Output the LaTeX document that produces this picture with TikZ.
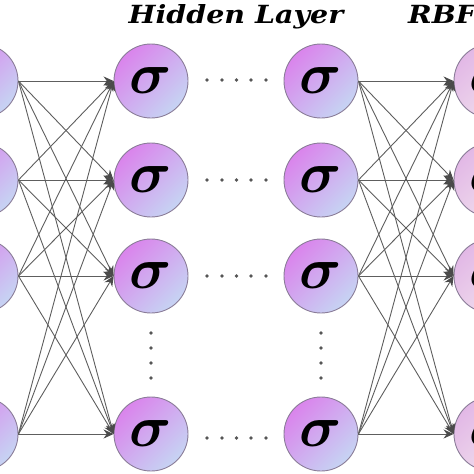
\documentclass[tikz,border=0pt]{standalone}
\usepackage{graphicx}
\usepackage{fontspec}
\newfontfamily\headfont[FakeStretch=1.14]{DejaVu Serif}
\usetikzlibrary{arrows.meta}
\definecolor{magA}{HTML}{DA84EC}
\definecolor{bluA}{HTML}{C6D4F3}
\definecolor{pinkA}{HTML}{E2B8E6}
\definecolor{pinkB}{HTML}{F2E4EE}
\definecolor{ringC}{HTML}{8A7C98}
\definecolor{edgeC}{HTML}{5E5E5E}
\definecolor{tipC}{HTML}{4A4A4A}
\definecolor{dotC}{HTML}{555555}
\newcommand{\bigsig}{\scalebox{2.35}{\Huge\boldmath$\sigma$}}
\tikzset{
  neuron/.style={circle, draw=ringC, line width=0.9pt, minimum size=74pt, inner sep=0pt,
    top color=magA, bottom color=bluA, shading angle=45},
  rbfneuron/.style={circle, draw=ringC, line width=0.9pt, minimum size=74pt, inner sep=0pt,
    top color=pinkA, bottom color=pinkB, shading angle=45},
  conn/.style={draw=edgeC, line width=0.9pt, -{Stealth[length=10pt,width=9pt,fill=tipC,color=tipC]}},
  dotnode/.style={circle, fill=dotC, inner sep=0pt, minimum size=3.8pt},
  head/.style={font=\headfont\bfseries\itshape\fontsize{25}{25}\selectfont, inner sep=0pt}
}
\begin{document}
\begin{tikzpicture}[x=1pt,y=-1pt]
\useasboundingbox (0,0) rectangle (474,474);
\begin{scope}
\clip (0,0) rectangle (474,474);
% rows
\foreach \r/\y in {1/81,2/180,3/276,4/434}{
  \node[neuron] (L\r) at (-19,\y) {};
  \node[neuron] (A\r) at (151,\y) {\bigsig};
  \node[neuron] (B\r) at (321,\y) {\bigsig};
  \node[rbfneuron] (R\r) at (491,\y) {\bigsig};
}
\foreach \i in {1,...,4}{
  \foreach \j in {1,...,4}{
    \draw[conn] (L\i.east) -- (A\j.west);
    \draw[conn] (B\i.east) -- (R\j.west);
  }
}
% horizontal dots
\foreach \y [count=\k] in {80,180,276,438}{
  \foreach \x [count=\m] in {207,222,236.5,251,266}{
    \node[dotnode] (h\k\m) at (\x,\y) {};
  }
}
% vertical dots
\foreach \x [count=\k] in {151,321}{
  \foreach \y [count=\m] in {333,348,363,378}{
    \node[dotnode] (v\k\m) at (\x,\y) {};
  }
}
\node[head, anchor=base] (hid) at (236,23) {Hidden Layer};
\node[head, anchor=base west] (rbf) at (408,23) {RBF};
\end{scope}
\end{tikzpicture}
\end{document}
